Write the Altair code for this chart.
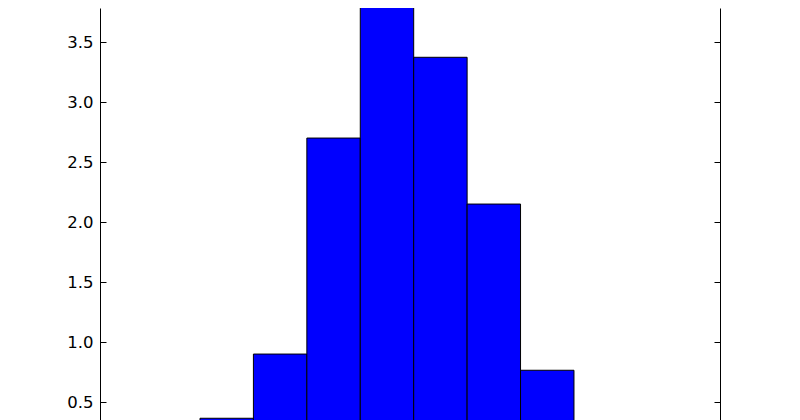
import altair as alt
import pandas as pd

# histogram bins (x axis not visible in reference; edges are evenly spaced)
bin_start = [-0.20, -0.14, -0.08, -0.02, 0.04, 0.10, 0.16]
bin_end = [-0.14, -0.08, -0.02, 0.04, 0.10, 0.16, 0.22]
density = [0.367, 0.902, 2.702, 3.842, 3.375, 2.152, 0.767]
y_ticks = [0.5, 1.0, 1.5, 2.0, 2.5, 3.0, 3.5]

df = pd.DataFrame({
    "start": bin_start,
    "end": bin_end,
    "density": density,
    "base": [0.0] * len(density),
})

W, H = 620, 420
x_scale = alt.Scale(domain=[-0.3123, 0.384], nice=False, zero=False)
y_scale = alt.Scale(domain=[0.2858, 3.7858], nice=False, zero=False)
FONT = "DejaVu Sans"

base = alt.Chart(df)

bars = base.mark_bar(color="#0000ff", stroke="black", strokeWidth=1, clip=True).encode(
    x=alt.X("start:Q", scale=x_scale, axis=None),
    x2="end:Q",
    y=alt.Y("density:Q", scale=y_scale,
            axis=alt.Axis(orient="left", values=y_ticks, format=".1f", ticks=False,
                          tickSize=0, labelPadding=7, domain=True, domainColor="black",
                          domainWidth=1, grid=False, title=None, labelFont=FONT,
                          labelFontSize=16.5, labelColor="black")),
    y2="base:Q",
)

left_ticks = base.mark_point(opacity=0).encode(
    x=alt.X("start:Q", scale=x_scale, axis=None),
    y=alt.Y("density:Q", scale=y_scale,
            axis=alt.Axis(orient="right", offset=-W, values=y_ticks, labels=False,
                          domain=False, ticks=True, tickSize=6, tickWidth=1,
                          tickColor="black", grid=False, title=None)),
)

right_axis = base.mark_point(opacity=0).encode(
    x=alt.X("start:Q", scale=x_scale, axis=None),
    y=alt.Y("density:Q", scale=y_scale,
            axis=alt.Axis(orient="left", offset=-W, values=y_ticks, labels=False,
                          domain=True, domainColor="black", domainWidth=1,
                          ticks=True, tickSize=6, tickWidth=1,
                          tickColor="black", grid=False, title=None)),
)

chart = alt.layer(bars, left_ticks, right_axis).resolve_scale(
    y="independent"
).properties(
    width=W, height=H,
    autosize=alt.AutoSizeParams(type="none"),
    padding={"left": 92, "top": 0, "right": 72, "bottom": 0},
    background="white",
).configure_view(stroke=None)

chart.save("out.html", embed_options={"renderer": "svg", "actions": False})
